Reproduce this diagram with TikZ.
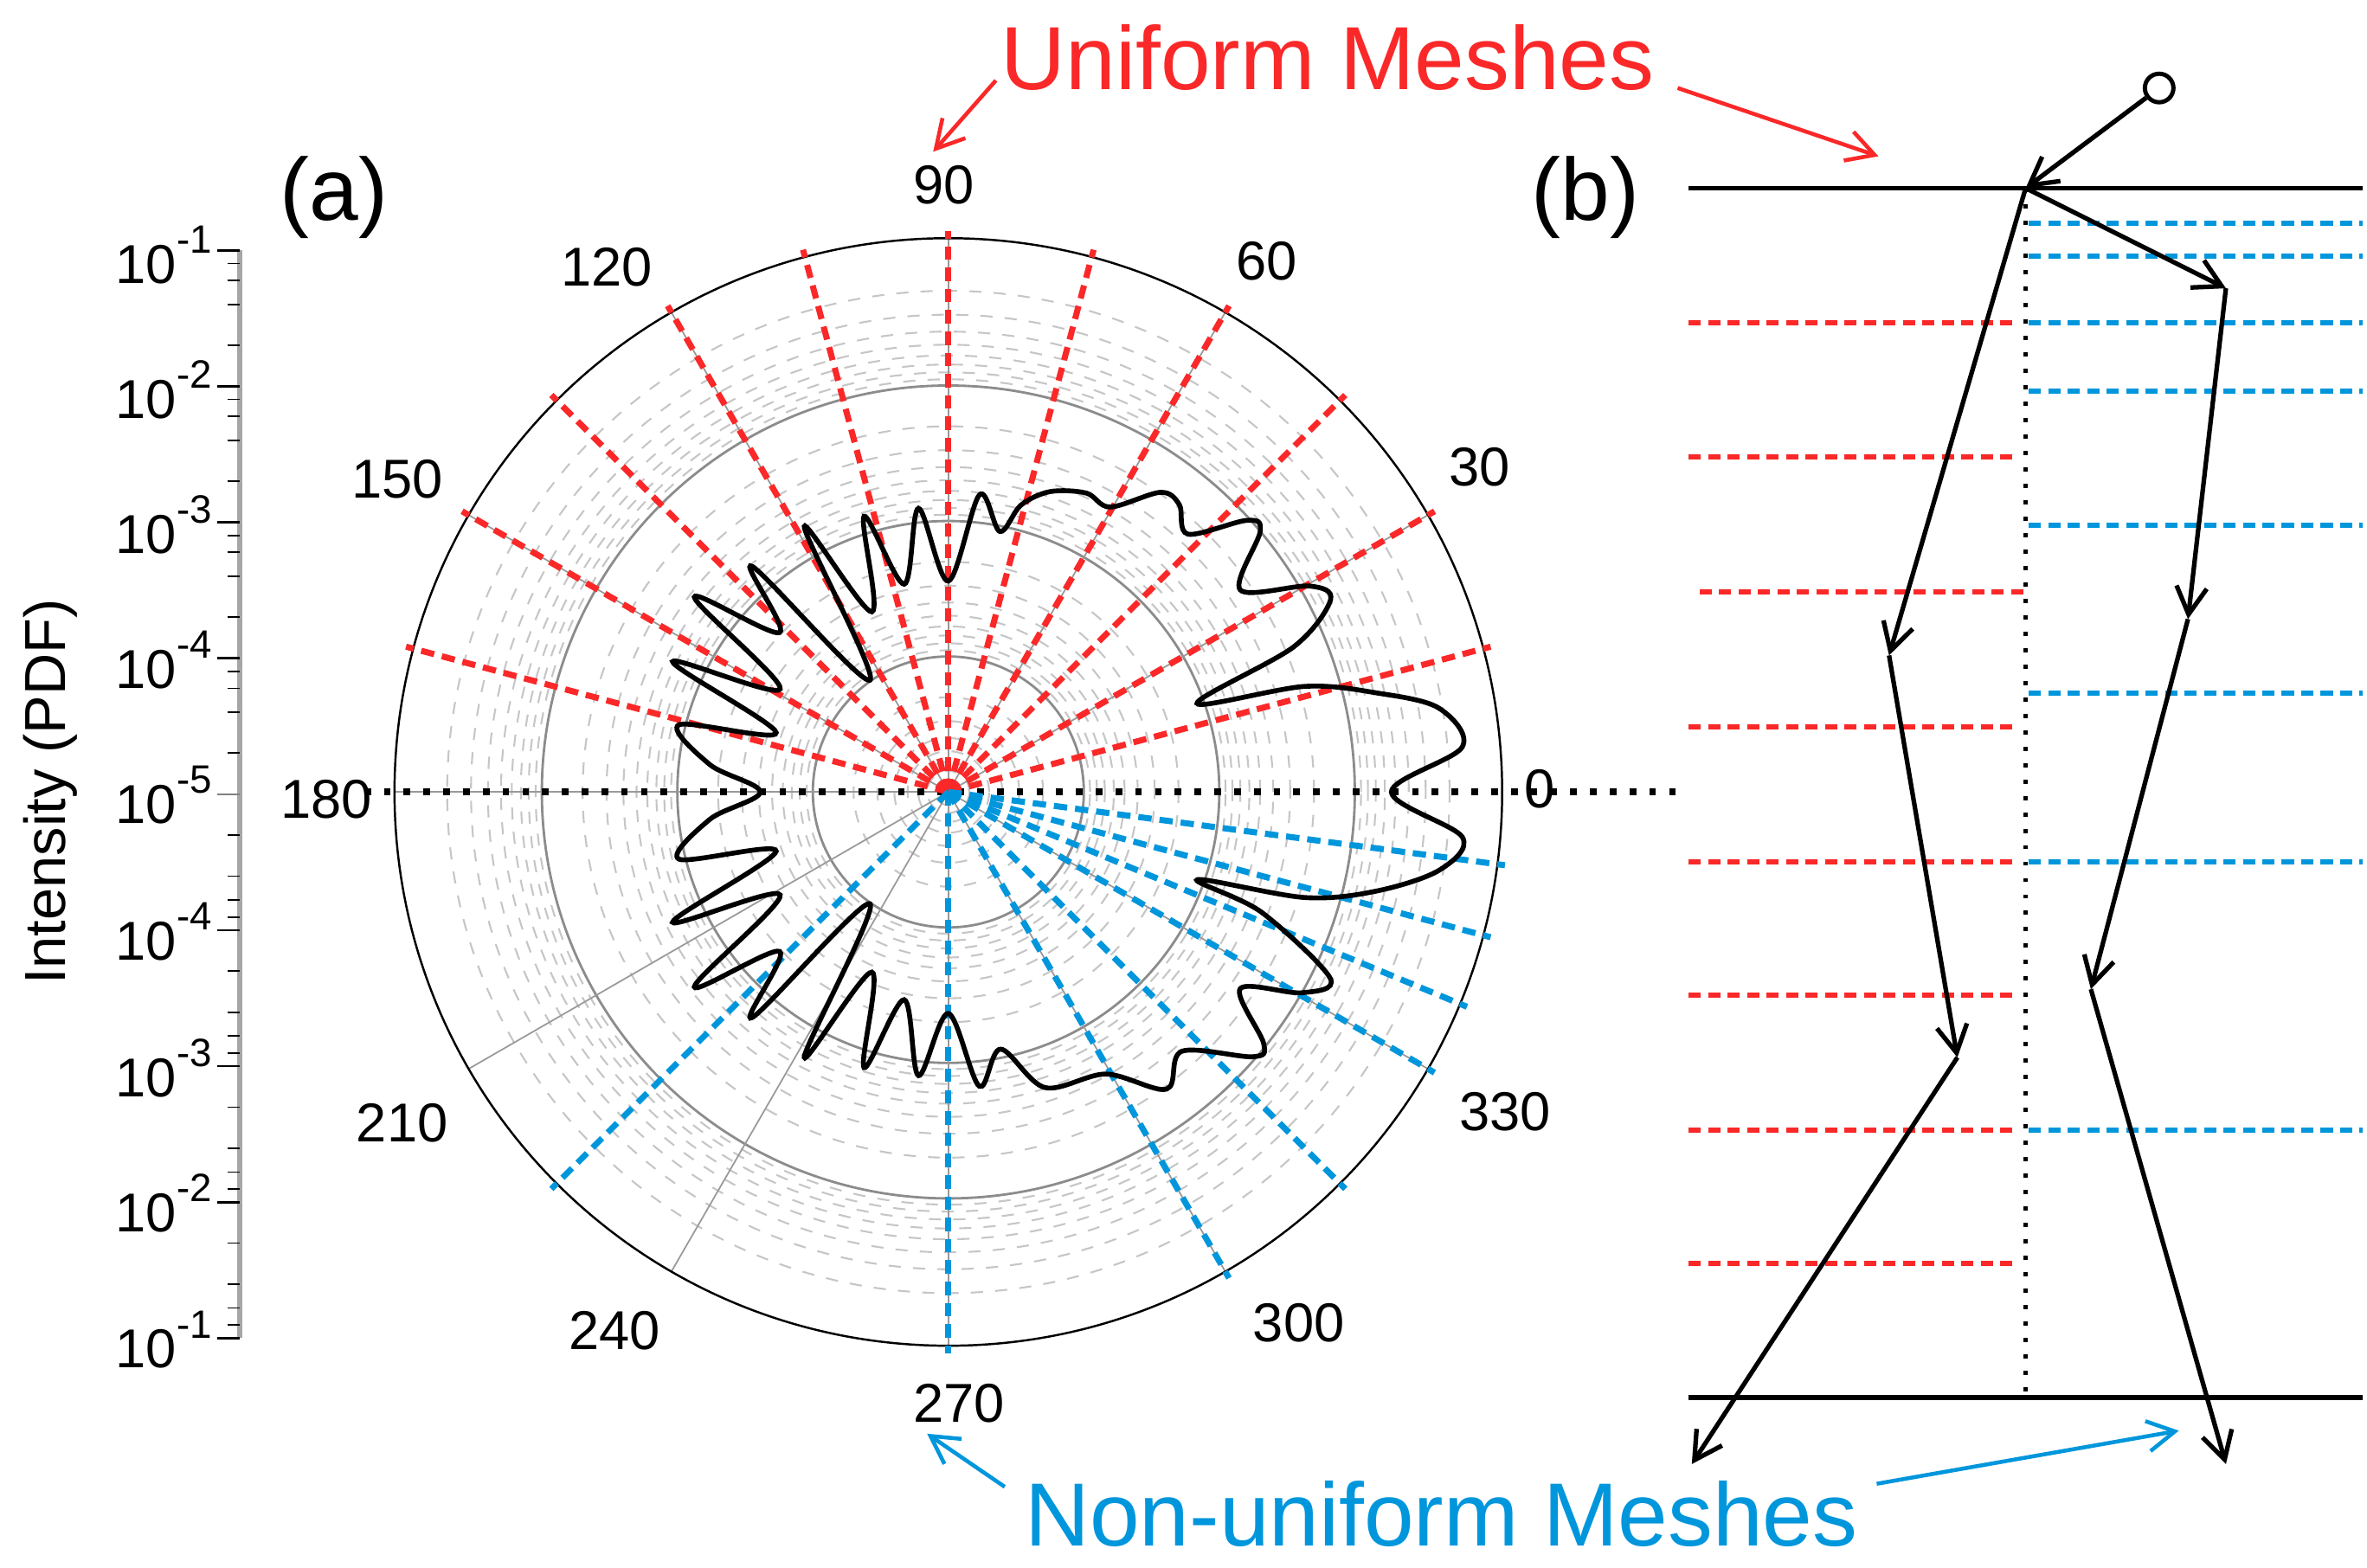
\documentclass[tikz,border=0pt]{standalone}
\usepackage{fontspec}
\setmainfont{Liberation Sans}
\usetikzlibrary{arrows.meta}
\definecolor{myred}{RGB}{250,40,40}
\definecolor{myblue}{RGB}{0,150,220}
\begin{document}
\begin{tikzpicture}[x=0.01753cm,y=0.01753cm,
  lbl/.style={font=\fontsize{18}{20}\selectfont,inner sep=0pt},
  tick/.style={font=\fontsize{18}{20}\selectfont,inner sep=0pt,anchor=east},
  rsp/.style={myred,line width=2pt,dash pattern=on 4.4pt off 2.6pt},
  bsp/.style={myblue,line width=2pt,dash pattern=on 4.4pt off 2.6pt},
  rmesh/.style={myred,line width=1.7pt,dash pattern=on 4pt off 2.4pt},
  bmesh/.style={myblue,line width=1.7pt,dash pattern=on 4pt off 2.4pt},
  ray/.style={black,line width=1.5pt,-{Straight Barb[length=9pt,width=10pt]}},
  note/.style={line width=1.3pt,-{Straight Barb[length=9pt,width=10pt]}}]
\useasboundingbox (0,0) rectangle (1560,-1033);
% ---------- polar plot
\begin{scope}[shift={(625,-522)}]
  \foreach \k in {0,1,2,3}{
    \foreach \m in {2,3,4,5,6,7,8,9}{
      \draw[gray!45,line width=0.6pt,dash pattern=on 4pt off 4pt] (0,0) circle ({89.3*\k+89.3*(1-log10(\m))});
    }}
  \foreach \r in {89.3,178.6,267.9}{\draw[gray!90,line width=0.8pt] (0,0) circle (\r);}
  \foreach \a in {30,60,...,330}{\draw[gray!80,line width=0.5pt] (0,0) -- (\a:365);}
  \draw[black,line width=0.7pt] (0,0) circle (365);
  \draw[black,line width=2.2pt,dash pattern=on 2.2pt off 4.3pt] (-385,0) -- (480,0);
  \foreach \a in {15,30,...,165}{\draw[rsp] (0,0) -- (\a:370);}
  \foreach \a in {-7.5,-15,-22.5,-30,-45,-60,-90,-135}{\draw[bsp] (0,0) -- (\a:370);}
  \draw[black,line width=1.6pt] plot[smooth cycle,tension=0.55] coordinates {
   (-173.5:158) (-166:183) (-161:120) (-154.7:201) (-148.5:130) (-142.5:211) (-136.6:153)
   (-131:197) (-125:90) (-118.5:199) (-113:129) (-107:190) (-102:140) (-96:188) (-90:146)
   (-84:195) (-78.5:173) (-71.9:205) (-60.8:213) (-53.7:243) (-48:230) (-41:266) (-38.6:266)
   (-34:232) (-29.6:268) (-26:280) (-21:221) (-19.4:174) (-16.5:245) (-13:290) (-9:328)
   (-5:340) (0:292) (5:340) (9.7:328) (13:290) (16.5:245) (19.6:174) (22.8:247) (26.7:282)
   (29.7:274) (34.7:234) (39.9:268) (42.3:266) (47.1:232) (51.2:243) (54.7:242) (60.4:216)
   (65.2:217) (71.3:209) (75.8:195) (78.8:175) (84:197) (90:139) (96:188) (102:140) (107:190)
   (113:129) (118.5:199) (125:90) (131:197) (136.6:153) (142.5:211) (148.5:130) (154.7:201)
   (161:120) (166:183) (173.5:158) (180:124)};
\end{scope}
\node[lbl] (l90) at (622,-122) {90};
\node[lbl] (l60) at (835,-172) {60};
\node[lbl] (l30) at (975,-308) {30};
\node[lbl] (l0) at (1015,-520) {0};
\node[lbl] (l330) at (992,-733) {330};
\node[lbl] (l300) at (856,-872) {300};
\node[lbl] (l270) at (632,-925) {270};
\node[lbl] (l240) at (405,-877) {240};
\node[lbl] (l210) at (265,-740) {210};
\node[lbl] (l180) at (215,-527) {180};
\node[lbl] (l150) at (262,-316) {150};
\node[lbl] (l120) at (400,-176) {120};
\node[inner sep=0pt,font=\fontsize{29}{30}\selectfont] (pa) at (220,-130) {(a)};
\node[inner sep=0pt,font=\fontsize{29}{30}\selectfont] (pb) at (1045,-130) {(b)};
% ---------- left axis
\draw[gray!70,line width=1.5pt] (158,-165) -- (158,-882);
\foreach \d in {0,1,2,3}{
  \draw[black,line width=0.7pt] (158,{-165-89.6*\d}) -- (143,{-165-89.6*\d});
  \draw[black,line width=0.7pt] (158,{-882+89.6*\d}) -- (143,{-882+89.6*\d});
  \foreach \m in {2,4,6,8}{
    \draw[black,line width=0.5pt] (158,{-165-89.6*\d-89.6*(1-log10(\m))}) -- (150,{-165-89.6*\d-89.6*(1-log10(\m))});
    \draw[black,line width=0.5pt] (158,{-882+89.6*\d+89.6*(1-log10(\m))}) -- (150,{-882+89.6*\d+89.6*(1-log10(\m))});
  }}
\draw[gray,line width=0.7pt] (158,-523.5) -- (143,-523.5);
\foreach \y/\e [count=\i] in {168/1,257/2,346/3,435/4,524/5,614/4,704/3,793/2,883/1}{
  \node[tick] (t\i) at (140,-\y) {10\raisebox{0.55em}{\fontsize{13}{14}\selectfont -\e}};
}
\node[rotate=90,inner sep=0pt,font=\fontsize{19}{21}\selectfont] (ylab) at (33,-522) {Intensity (PDF)};
% ---------- panel b
\draw[black,line width=1.6pt] (1113,-124) -- (1557,-124);
\draw[black,line width=1.6pt] (1113,-921) -- (1557,-921);
\draw[black,line width=1.4pt,dash pattern=on 1.4pt off 4pt] (1335,-124) -- (1335,-921);
\foreach \y in {213,301,479,568,656,745,833}{\draw[rmesh] (1113,-\y) -- (1330,-\y);}
\draw[rmesh] (1120,-390) -- (1335,-390);
\foreach \y in {147,169,213,258,346,457,568,745}{\draw[bmesh] (1337,-\y) -- (1557,-\y);}
\node[draw,circle,line width=1.4pt,inner sep=0pt,minimum size=0.33cm] (src) at (1423,-58) {};
\coordinate (p0) at (1335,-124);
\coordinate (q1) at (1467,-190);
\coordinate (q2) at (1442,-408);
\coordinate (q3) at (1378,-652);
\coordinate (q4) at (1467,-965);
\coordinate (p1) at (1245,-432);
\coordinate (p2) at (1290,-697);
\coordinate (p3) at (1115,-965);
\draw[ray] (src) -- (p0);
\draw[ray] (p0) -- (q1);
\draw[ray] (q1) -- (q2);
\draw[ray] (q2) -- (q3);
\draw[ray] (q3) -- (q4);
\draw[ray] (p0) -- (p1);
\draw[ray] (p1) -- (p2);
\draw[ray] (p2) -- (p3);
% ---------- annotations
\node[myred,inner sep=0pt,font=\fontsize{29.5}{31}\selectfont] (um) at (875,-38) {Uniform Meshes};
\node[myblue,inner sep=0pt,font=\fontsize{29.5}{31}\selectfont] (nm) at (950,-998) {Non-uniform Meshes};
\coordinate (ua) at (615,-100);
\coordinate (ub) at (1238,-103);
\coordinate (na) at (611,-945);
\coordinate (nb) at (1436,-943);
\draw[note,myred] (um.west) ++(-3,-15) -- (ua);
\draw[note,myred] (um.east) ++(15,-20) -- (ub);
\draw[note,myblue] (nm.west) ++(-13,18) -- (na);
\draw[note,myblue] (nm.east) ++(12,20) -- (nb);
\end{tikzpicture}
\end{document}
